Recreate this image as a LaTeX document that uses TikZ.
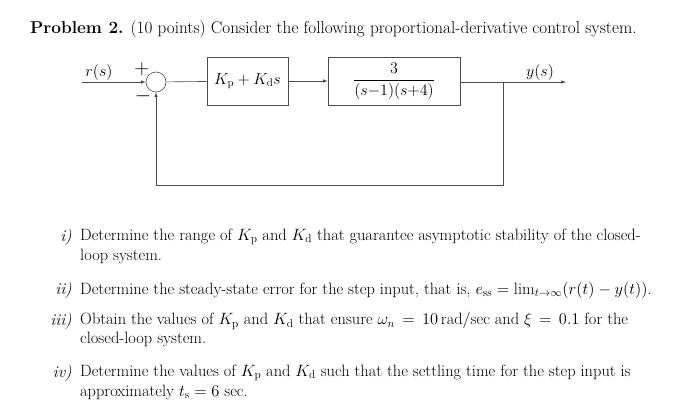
\documentclass[tikz,border=0pt]{standalone}
\usepackage{fix-cm}
\usepackage{amsmath}
\usepackage{fontspec}
\usetikzlibrary{positioning}
\tikzset{
  blk/.style={draw=black!70,line width=0.6pt,minimum width=#1,minimum height=48pt,inner sep=2pt},
  sig/.style={draw=black!70,line width=0.6pt,-latex},
  txt/.style={anchor=west,inner sep=0pt,font=\fontsize{16.4}{19}\selectfont},
  lbl/.style={anchor=east,inner sep=0pt,font=\fontsize{16.4}{19}\selectfont\itshape},
  dia/.style={font=\fontsize{16}{19}\selectfont}
}
\begin{document}
\begin{tikzpicture}[x=1pt,y=-1pt]
\useasboundingbox (0,0) rectangle (700,407);
\node[txt,font=\fontsize{17.2}{20}\selectfont] (title) at (30,29) {\textbf{Problem 2.} (10 points) Consider the following proportional-derivative control system.};
% block diagram
\coordinate (in) at (82,82);
\node[draw=black!70,line width=0.6pt,circle,minimum size=20pt,inner sep=0pt] (sum) at (156,82) {};
\node[blk=81pt,dia] (ctrl) at (247.5,81) {$K_{\mathrm{p}}+K_{\mathrm{d}}s$};
\node[blk=132pt,dia] (plant) at (394,81) {$\dfrac{3}{(s{-}1)(s{+}4)}$};
\coordinate (out) at (566,82);
\coordinate (br) at (503,82);
\coordinate (fb) at (503,185);
\coordinate (fs) at (156,185);
\draw[sig] (in) -- (sum);
\draw[draw=black!70,line width=0.6pt] (sum) -- (ctrl);
\draw[sig] (ctrl) -- (plant);
\draw[sig] (plant.east |- out) -- (out);
\draw[sig] (br) -- (fb) -- (fs) -- (sum);
\node[dia] (rs) at (99,72) {$r(s)$};
\node[dia] (ys) at (540,72) {$y(s)$};
\node[font=\fontsize{21}{24}\selectfont] (plus) at (142,69) {$+$};
\node[font=\fontsize{21}{24}\selectfont] (minus) at (143,96) {$-$};
% questions
\node[lbl] (q1) at (72,237) {i)};
\node[txt] (t1a) at (80,237) {Determine the range of $K_{\mathrm p}$ and $K_{\mathrm d}$ that guarantee asymptotic stability of the closed-};
\node[txt] (t1b) at (80,256) {loop system.};
\node[lbl] (q2) at (72,290) {ii)};
\node[txt] (t2) at (80,290) {Determine the steady-state error for the step input, that is, $e_{\mathrm{ss}}=\lim_{t\to\infty}(r(t)-y(t))$.};
\node[lbl] (q3) at (72,321) {iii)};
\node[txt] (t3a) at (80,321) {Obtain the values of $K_{\mathrm p}$ and $K_{\mathrm d}$ that ensure $\omega_n\,=\,10\,\mathrm{rad/sec}$ and $\xi\,=\,0.1$ for the};
\node[txt] (t3b) at (80,339) {closed-loop system.};
\node[lbl] (q4) at (72,373) {iv)};
\node[txt] (t4a) at (80,373) {Determine the values of $K_{\mathrm p}$ and $K_{\mathrm d}$ such that the settling time for the step input is};
\node[txt] (t4b) at (80,392) {approximately $t_{\mathrm s}=6$ sec.};
\end{tikzpicture}
\end{document}
